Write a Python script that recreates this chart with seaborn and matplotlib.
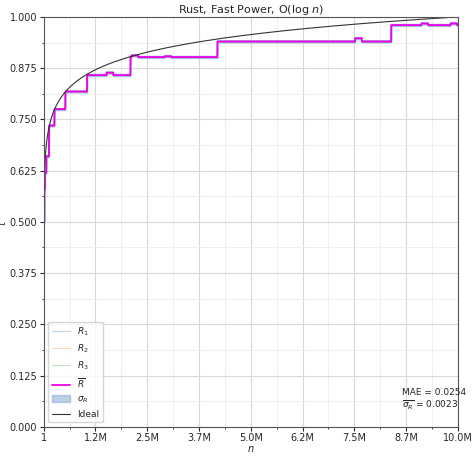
import numpy as np
import pandas as pd
import matplotlib
matplotlib.use("Agg")
import matplotlib.pyplot as plt
from matplotlib.ticker import AutoMinorLocator
import seaborn as sns

# step levels of measured normalised time per power-of-two interval of n
step_exponents = [0, 10, 12, 14, 15, 16, 17, 18, 19, 20, 21, 22, 23]
step_levels = [0.0, 0.42, 0.5, 0.58, 0.62, 0.66, 0.735, 0.775, 0.818, 0.858, 0.902, 0.94, 0.98]
# small bumps (n centre, height) seen on the mean curve
bump_n = [1.6e6, 2.2e6, 3.0e6, 7.6e6, 9.2e6, 9.9e6]
bump_h = [0.006, 0.004, 0.002, 0.008, 0.004, 0.004]
# per-run offsets from the mean
run_offsets = [0.002, -0.001, -0.001]
run_names = [r"$R_1$", r"$R_2$", r"$R_3$"]
run_colors = ["#1f77b4", "#ff7f0e", "#2ca02c"]
sigma = 0.0023
mae_text = "MAE = 0.0254\n" + r"$\overline{\sigma_R}$ = 0.0023"

n_max = 1e7
x_ticks = [1, 1.25e6, 2.5e6, 3.75e6, 5e6, 6.25e6, 7.5e6, 8.75e6, 1e7]
x_labels = ["1", "1.2M", "2.5M", "3.7M", "5.0M", "6.2M", "7.5M", "8.7M", "10.0M"]
y_ticks = [0, 0.125, 0.25, 0.375, 0.5, 0.625, 0.75, 0.875, 1.0]

n = np.concatenate([np.geomspace(1, 2e5, 300), np.linspace(2e5, n_max, 2500)])
k = np.floor(np.log2(n))
idx = np.searchsorted(step_exponents, k, side="right") - 1
mean = np.array(step_levels)[idx]
for c, h in zip(bump_n, bump_h):
    mean = mean + h * (np.abs(n - c) < 0.08e6)
ideal = np.log(n) / np.log(n_max)

sns.set_style("whitegrid")
fig, ax = plt.subplots(figsize=(4.74, 4.57), dpi=100)
fig.subplots_adjust(left=0.092, right=0.966, top=0.963, bottom=0.066)

for name, col, off in zip(run_names, run_colors, run_offsets):
    df = pd.DataFrame({"n": n, "t": mean + off})
    sns.lineplot(data=df, x="n", y="t", ax=ax, color=col, alpha=0.3, lw=0.8, label=name)
sns.lineplot(x=n, y=mean, ax=ax, color="#ee00ee", lw=1.3, label=r"$\overline{R}$")
ax.fill_between(n, mean - sigma, mean + sigma, color="#7ba3d0", alpha=0.5,
                label=r"$\sigma_R$")
sns.lineplot(x=n, y=ideal, ax=ax, color="#333333", lw=0.8, label="Ideal")

ax.set_xlim(1, n_max)
ax.set_ylim(0, 1)
ax.set_xticks(x_ticks)
ax.set_xticklabels(x_labels)
ax.set_yticks(y_ticks)
ax.xaxis.set_minor_locator(AutoMinorLocator(2))
ax.yaxis.set_minor_locator(AutoMinorLocator(2))
ax.grid(which="major", color="#d8d8d8", lw=0.8)
ax.grid(which="minor", color="#ececec", lw=0.6)
ax.tick_params(labelsize=7, which="both", direction="out", length=3, pad=1.5,
               left=True, bottom=True)
ax.tick_params(which="minor", length=1.5)
for s in ax.spines.values():
    s.set_color("#555555")
ax.set_title(r"Rust, Fast Power, O(log $n$)", fontsize=8, pad=3)
ax.set_xlabel(r"$n$", fontsize=7, labelpad=1)
ax.set_ylabel(r"$t'$", fontsize=7, labelpad=1)
ax.legend(loc="lower left", fontsize=6.5, frameon=True, framealpha=0.8)
ax.text(0.865, 0.035, mae_text, transform=ax.transAxes, fontsize=6.5, va="bottom")

fig.savefig("out.png", dpi=100)
